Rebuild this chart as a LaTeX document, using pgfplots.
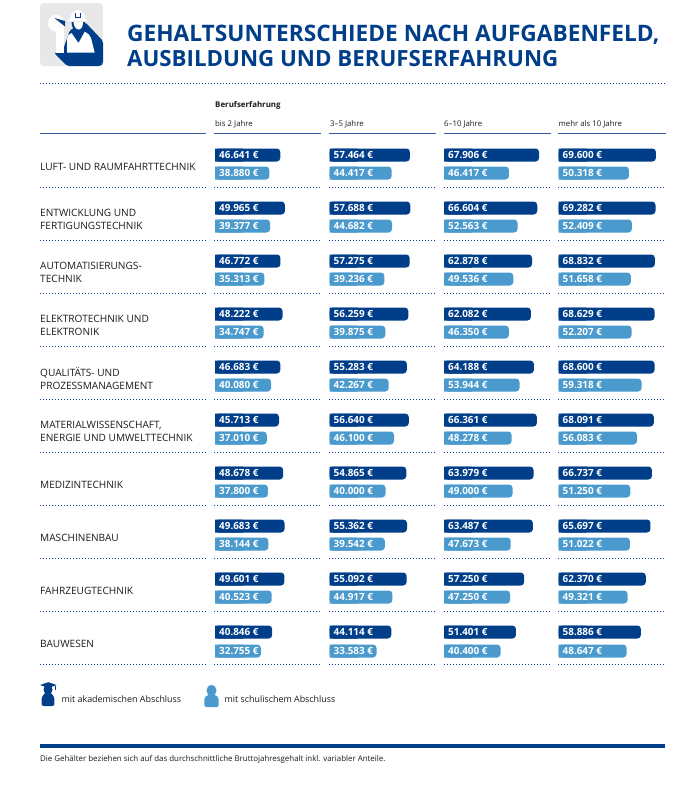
\documentclass[border=0pt]{standalone}
\usepackage{fontspec}
\setmainfont{Open Sans}
\usepackage{pgfplots}
\usepackage{pgfplotstable}
\pgfplotsset{compat=1.18}
\definecolor{navy}{RGB}{0,62,138}
\definecolor{sky}{RGB}{74,154,205}
\definecolor{rulec}{RGB}{58,90,160}
\definecolor{ink}{RGB}{26,26,26}
\definecolor{tile}{RGB}{232,232,232}

% yd/yl: bar centres in image pixels, a/b: salaries by experience band
\pgfplotstableread{
yd yl a1 b1 a2 b2 a3 b3 a4 b4
155 173 46641 38880 57464 44417 67906 46417 69600 50318
208 226 49965 39377 57688 44682 66604 52563 69282 52409
261 279 46772 35313 57275 39236 62878 49536 68832 51658
314 332 48222 34747 56259 39875 62082 46350 68629 52207
367 385 46683 40080 55283 42267 64188 53944 68600 59318
420 438 45713 37010 56640 46100 66361 48278 68091 56083
473 491 48678 37800 54865 40000 63979 49000 66737 51250
526 544 49683 38144 55362 39542 63487 47673 65697 51022
579 597 49601 40523 55092 44917 57250 47250 62370 49321
632 651 40846 32755 44114 33583 51401 40400 58886 48647
}\salaries

\pgfplotsset{
  barcol/.style={xbar, bar width=13pt, bar shift=0pt, draw=none, fill=#1},
  salarylabel/.style={
    point meta=explicit,
    nodes near coords={\pgfmathprintnumber[fixed,precision=0,1000 sep={.},assume math mode=true]{\pgfplotspointmeta}~€},
    every node near coord/.append style={anchor=west, xshift=-28pt, text=white,
      font=\fontsize{9.9}{10}\selectfont\bfseries, inner xsep=4pt, inner ysep=0pt},
  },
}
% one hidden axis per column, 0.0014 px per euro, y in image pixels
\newcommand{\salarycol}[3]{%
\begin{axis}[at={(#1pt,0pt)}, anchor=north west, scale only axis, width=110pt, height=785pt,
  hide axis, xmin=0, xmax=78571, ymin=0, ymax=785, y dir=reverse, clip=false]
\addplot[barcol=navy, rounded corners=3.5pt] table[x=#2,y=yd] {\salaries};
\addplot[barcol=sky, rounded corners=3.5pt] table[x=#3,y=yl] {\salaries};
\addplot[barcol=navy, salarylabel] table[x expr=20000,y=yd,meta=#2] {\salaries};
\addplot[barcol=sky, salarylabel] table[x expr=20000,y=yl,meta=#3] {\salaries};
\end{axis}}

\begin{document}
\begin{tikzpicture}[x=1pt,y=-1pt]
\path (0,0) rectangle (695,785);

% icon
\fill[tile,rounded corners=4pt] (40,3) rectangle (103,66);
\fill[navy,rounded corners=2pt] (54,52.7) -- (67,66) -- (101,66) -- (103,64) -- (103,41) -- (85,22) -- (70,30) -- (62,52.7) -- cycle;
\fill[white] (56.3,28) -- (64,28) -- (64,52.7) -- (56.3,52.7) -- cycle;
\fill[white] (56.3,23.3) circle (8.3);
\fill[navy] (54.5,18) -- (65,21) -- (65,26.5) -- cycle;
\fill[tile] (57,14) -- (66,14) -- (66,20.5) -- cycle;
\fill[white] (67,52.7) -- (67,39) .. controls (67,36) and (69,34) .. (71.5,33) -- (78.5,43) -- (84.7,31.7) .. controls (88,33) and (90,35) .. (91,38) -- (94.7,52.7) -- cycle;
\fill[navy] (71.5,22) .. controls (71.5,34) and (85,36) .. (85,22) -- cycle;
\fill[white] (73.5,22) .. controls (74,31) and (83,33) .. (83,22) -- cycle;
\fill[white] (70,19.5) .. controls (70,7) and (85,7) .. (85,19.5) -- (87,20.8) -- (67,20.8) -- cycle;
\draw[navy,line width=0.7pt] (75.5,13) -- (75.5,17.5) -- (80,17.5) -- (80,13);

% title
\node[anchor=west,inner sep=0pt,text=navy,font=\fontsize{22.7}{24}\selectfont\bfseries] at (127,34.5) {GEHALTSUNTERSCHIEDE NACH AUFGABENFELD,};
\node[anchor=west,inner sep=0pt,text=navy,font=\fontsize{22.3}{24}\selectfont\bfseries] at (127,59) {AUSBILDUNG UND BERUFSERFAHRUNG};

\draw[navy,line width=0.8pt,dash pattern=on 0.8pt off 2.2pt] (40,83.5) -- (665,83.5);

% head
\begin{scope}[every node/.style={anchor=west,inner sep=0pt,text=ink,font=\fontsize{7.8}{9}\selectfont}]
\node[font=\fontsize{7.9}{9}\selectfont\bfseries] at (215,105.5) {Berufserfahrung};
\node at (215,124) {bis 2 Jahre};
\node at (330,124) {3--5 Jahre};
\node at (444,124) {6--10 Jahre};
\node at (558.5,124) {mehr als 10 Jahre};
\end{scope}
\foreach \a/\b in {40/206,214/321,329/436,444/551,558/666}{
  \draw[rulec,line width=0.8pt] (\a,133.5) -- (\b,133.5);
  \foreach \k in {0,...,9}
    \draw[navy,line width=0.8pt,dash pattern=on 0.8pt off 2.2pt] (\a,187.5+53*\k) -- (\b,187.5+53*\k);
}

% row labels
\begin{scope}[every node/.style={anchor=west,align=left,inner sep=0pt,text=ink,font=\fontsize{10.1}{12.6}\selectfont}]
\node at (40,166.5) {LUFT- UND RAUMFAHRTTECHNIK};
\node at (40,219.5) {ENTWICKLUNG UND\\FERTIGUNGSTECHNIK};
\node at (40,272.5) {AUTOMATISIERUNGS-\\TECHNIK};
\node at (40,325.5) {ELEKTROTECHNIK UND\\ELEKTRONIK};
\node at (40,378.5) {QUALITÄTS- UND\\PROZESSMANAGEMENT};
\node at (40,431.5) {MATERIALWISSENSCHAFT,\\ENERGIE UND UMWELTTECHNIK};
\node at (40,484.5) {MEDIZINTECHNIK};
\node at (40,537.5) {MASCHINENBAU};
\node at (40,590.5) {FAHRZEUGTECHNIK};
\node at (40,643.5) {BAUWESEN};
\end{scope}

\salarycol{215}{a1}{b1}
\salarycol{329.5}{a2}{b2}
\salarycol{444}{a3}{b3}
\salarycol{558.5}{a4}{b4}

% legend
\fill[navy,rounded corners=1.5pt] (41.7,706) -- (41.7,699) .. controls (42,695) and (44.5,695) .. (45,692) -- (51,692) .. controls (51.5,695) and (54,695) .. (54.3,699) -- (54.3,706) -- cycle;
\fill[navy] (48,689.5) ellipse (4.5 and 5);
\fill[navy] (40,685) -- (48.3,682.2) -- (56.7,685) -- (48.3,688) -- cycle;
\draw[navy,line width=0.6pt] (55,685.5) -- (55,690);
\fill[sky,rounded corners=2pt] (204.3,707) -- (204.3,701) .. controls (204.5,696) and (207,696) .. (208,694) -- (215,694) .. controls (216,696) and (218.5,696) .. (218.7,701) -- (218.7,707) -- cycle;
\fill[sky] (211.5,690.5) ellipse (5 and 5.7);
\node[anchor=west,inner sep=0pt,text=ink,font=\fontsize{8.9}{10}\selectfont] at (61.5,699.5) {mit akademischen Abschluss};
\node[anchor=west,inner sep=0pt,text=ink,font=\fontsize{8.9}{10}\selectfont] at (224.5,699.5) {mit schulischem Abschluss};

% footer
\fill[navy] (40,744) rectangle (665,748);
\node[anchor=west,inner sep=0pt,text=ink,font=\fontsize{7.9}{9}\selectfont] at (40,759.5) {Die Gehälter beziehen sich auf das durchschnittliche Bruttojahresgehalt inkl. variabler Anteile.};
\end{tikzpicture}
\end{document}
